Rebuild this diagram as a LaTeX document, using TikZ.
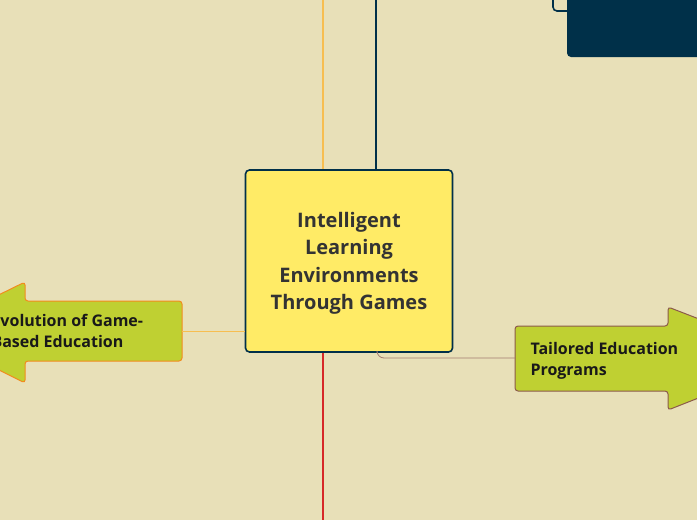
\documentclass[tikz,border=0pt]{standalone}
\usepackage{fontspec}
\setmainfont{Open Sans}
\usetikzlibrary{positioning}

\definecolor{sfondo}{RGB}{232,224,184}
\definecolor{giallo}{RGB}{255,235,102}
\definecolor{blu}{RGB}{0,48,73}
\definecolor{lime}{RGB}{191,208,50}
\definecolor{arancio}{RGB}{247,190,80}
\definecolor{arancioscuro}{RGB}{242,140,30}
\definecolor{rosso}{RGB}{214,40,40}
\definecolor{marrone}{RGB}{140,90,75}
\definecolor{grigio}{RGB}{51,51,51}

\tikzset{
    centrale/.style={draw=blu, line width=1.6pt, fill=giallo, rounded corners=4pt,
        minimum width=207pt, minimum height=182pt, align=center, text=grigio,
        font=\fontsize{20}{27.5}\selectfont\bfseries},
    freccia/.style={fill=lime, line width=1pt, rounded corners=3pt},
    testofreccia/.style={align=left, anchor=west, text=black!90,
        font=\fontsize{16}{21}\selectfont\bfseries},
}

\begin{document}
\begin{tikzpicture}[x=1pt, y=-1pt]
            \useasboundingbox (0,0) rectangle (697,520);
            \fill[sfondo] (0,0) rectangle (697,520);

            % riquadri blu in alto a destra
            \draw[blu, line width=1.6pt, rounded corners=4pt] (553,-30) rectangle (740,11);
            \fill[blu, rounded corners=4pt] (567,-60) rectangle (740,57);

            % rami verso l'alto e verso il basso
            \coordinate (suA) at (323,0);
            \coordinate (suB) at (376,0);
            \coordinate (giu) at (323,520);
            \draw[arancio, line width=1.5pt] (suA) -- (323,200);
            \draw[blu, line width=2pt] (suB) -- (376,200);
            \draw[rosso, line width=2pt] (giu) -- (323,300);

            % freccia a sinistra
            \draw[freccia, draw=arancioscuro]
                (182,301) -- (25,301) -- (25,282) -- (-77,332) -- (25,383) -- (25,361) -- (182,361) -- cycle;
            \coordinate (evo) at (182,331);
            \node[testofreccia] (evotesto) at (-12,331) {Evolution of Game-\\Based Education};

            % freccia a destra
            \draw[freccia, draw=marrone]
                (515,326) -- (668,326) -- (668,307) -- (800,358) -- (668,410) -- (668,391) -- (515,391) -- cycle;
            \coordinate (tail) at (515,358);
            \node[testofreccia] (tailtesto) at (527,361) {Tailored Education\\Programs};

            \node[centrale] (radice) at (349,261) {\raisebox{-2pt}[\height][\depth]{\begin{tabular}{@{}c@{}}Intelligent\\Learning\\Environments\\Through Games\end{tabular}}};

            \draw[arancio, line width=0.8pt] (evo) -- (evo -| radice.west);
            \draw[marrone!80, line width=0.8pt, rounded corners=7pt]
                (radice.south -| 377,0) |- (tail);

        \end{tikzpicture}
\end{document}
